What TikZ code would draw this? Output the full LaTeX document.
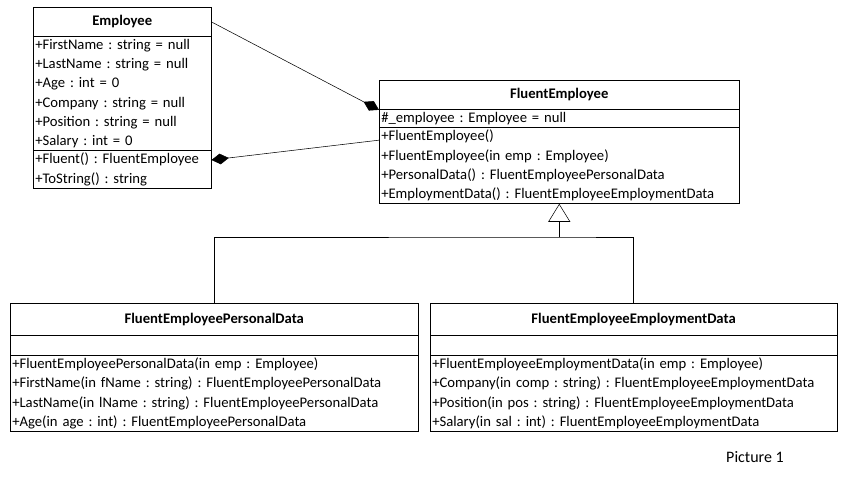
\documentclass[tikz,border=0pt]{standalone}
\usepackage{fontspec}
\setmainfont{Carlito}
\frenchspacing
\usetikzlibrary{arrows.meta,positioning}
\tikzset{%
  % compartments of the class boxes
       part/.style = {rectangle, draw=black, inner xsep=1.5pt, inner ysep=2pt,
                      align=left, font=\fontsize{11}{14.4}\selectfont},
      title/.style = {part, align=center, minimum height=22pt,
                      font=\fontsize{11}{14.4}\selectfont\bfseries},
      empty/.style = {part, minimum height=15pt},
       comp/.style = {-{Diamond[fill=black,length=13pt,width=8pt]}},
    inherit/.style = {-{Triangle[open,fill=white,length=13.5pt,width=16.5pt]}},
}
\begin{document}
\begin{tikzpicture}[x=0.75pt,y=-0.75pt]
\useasboundingbox (0,0) rectangle (843,476);

% Employee
\node (Emp)  [title, anchor=north west, text width=130.5pt] at (33,7) {Employee};
\node (EmpA) [part, below=-0.4pt of Emp, text width=130.5pt]
  {+FirstName : string = null\\+LastName : string = null\\+Age : int = 0\\
   +Company : string = null\\+Position : string = null\\+Salary : int = 0};
\node (EmpM) [part, below=-0.4pt of EmpA, text width=130.5pt]
  {+Fluent() : FluentEmployee\\+ToString() : string};

% FluentEmployee
\node (FE)  [title, anchor=north west, text width=267pt] at (379,80) {FluentEmployee};
\node (FEA) [part, below=-0.4pt of FE, text width=267pt] {\#\_employee : Employee = null};
\node (FEM) [part, below=-0.4pt of FEA, text width=267pt]
  {+FluentEmployee()\\+FluentEmployee(in emp : Employee)\\
   +PersonalData() : FluentEmployeePersonalData\\
   +EmploymentData() : FluentEmployeeEmploymentData};

% FluentEmployeePersonalData
\node (P)  [title, anchor=north west, text width=303pt, minimum height=24pt] at (10,303)
  {FluentEmployeePersonalData};
\node (PA) [empty, below=-0.4pt of P, text width=303pt] {};
\node (PM) [part, below=-0.4pt of PA, text width=303pt]
  {+FluentEmployeePersonalData(in emp : Employee)\\
   +FirstName(in fName : string) : FluentEmployeePersonalData\\
   +LastName(in lName : string) : FluentEmployeePersonalData\\
   +Age(in age : int) : FluentEmployeePersonalData};

% FluentEmployeeEmploymentData
\node (E)  [title, anchor=north west, text width=302pt, minimum height=24pt] at (430,303)
  {FluentEmployeeEmploymentData};
\node (EA) [empty, below=-0.4pt of E, text width=302pt] {};
\node (EM) [part, below=-0.4pt of EA, text width=302pt]
  {+FluentEmployeeEmploymentData(in emp : Employee)\\
   +Company(in comp : string) : FluentEmployeeEmploymentData\\
   +Position(in pos : string) : FluentEmployeeEmploymentData\\
   +Salary(in sal : int) : FluentEmployeeEmploymentData};

\node (cap) [font=\fontsize{12}{14}\selectfont] at (755,457) {Picture 1};

% connectors
\draw[comp] (Emp.east) -- (FE.south west);
\draw[comp] (FEM.172) -- (EmpM.6);

\coordinate (bar) at (FEM.south |- 0,237);
\draw (P.north) |- (bar) -| (E.north);
\draw[inherit] (bar) -- (FEM.south);
\end{tikzpicture}
\end{document}
